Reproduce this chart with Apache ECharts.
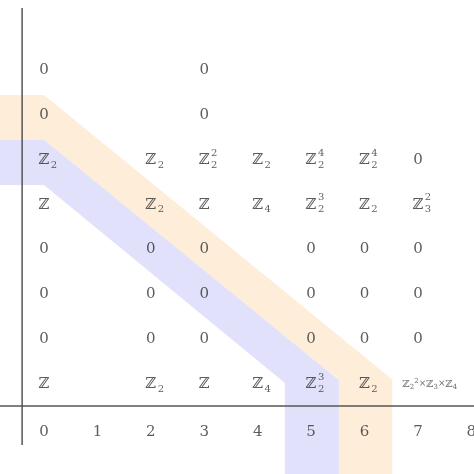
<!DOCTYPE html>
<html>
<head>
<meta charset="utf-8">
<script src="https://cdn.jsdelivr.net/npm/echarts@6/dist/echarts.min.js"></script>
<style>html,body{margin:0;padding:0;background:#fff}#main{width:474px;height:474px}</style>
</head>
<body>
<div id="main"></div>
<script>
// column / row labels
var xTicks = [0, 1, 2, 3, 4, 5, 6, 7, 8];
var yTicks = [0, 1, 2, 3, 4, 5, 6, 7, 8];

// table entries: [p, q, base, subscript, superscript]
var cells = [
    [0, 7, '0', '', ''], [3, 7, '0', '', ''],
    [0, 6, '0', '', ''], [3, 6, '0', '', ''],
    [0, 5, 'ℤ', '2', ''], [2, 5, 'ℤ', '2', ''], [3, 5, 'ℤ', '2', '2'], [4, 5, 'ℤ', '2', ''],
    [5, 5, 'ℤ', '2', '4'], [6, 5, 'ℤ', '2', '4'], [7, 5, '0', '', ''],
    [0, 4, 'ℤ', '', ''], [2, 4, 'ℤ', '2', ''], [3, 4, 'ℤ', '', ''], [4, 4, 'ℤ', '4', ''],
    [5, 4, 'ℤ', '2', '3'], [6, 4, 'ℤ', '2', ''], [7, 4, 'ℤ', '3', '2'],
    [0, 3, '0', '', ''], [2, 3, '0', '', ''], [3, 3, '0', '', ''], [5, 3, '0', '', ''], [6, 3, '0', '', ''], [7, 3, '0', '', ''],
    [0, 2, '0', '', ''], [2, 2, '0', '', ''], [3, 2, '0', '', ''], [5, 2, '0', '', ''], [6, 2, '0', '', ''], [7, 2, '0', '', ''],
    [0, 1, '0', '', ''], [2, 1, '0', '', ''], [3, 1, '0', '', ''], [5, 1, '0', '', ''], [6, 1, '0', '', ''], [7, 1, '0', '', ''],
    [0, 0, 'ℤ', '', ''], [2, 0, 'ℤ', '2', ''], [3, 0, 'ℤ', '', ''], [4, 0, 'ℤ', '4', ''],
    [5, 0, 'ℤ', '2', '3'], [6, 0, 'ℤ', '2', '']
];
// the long entry at (7,0)
var longCell = [7, 0, '{z|ℤ}{s|2}{p|2}{t|×}{z|ℤ}{s|3}{t|×}{z|ℤ}{s|4}'];

// highlighted bands
var blueBand = [[-0.9, 5.45], [0, 5.45], [5.52, 0.08], [5.52, -2.2], [4.51, -2.2], [4.51, 0.02], [0, 4.44], [-0.9, 4.44]];
var orangeBand = [[-0.9, 6.45], [0, 6.45], [6.52, 0.1], [6.52, -2.2], [5.52, -2.2], [5.52, 0.08], [0, 5.45], [-0.9, 5.45]];

var serif = '"DejaVu Serif", "Liberation Serif", serif';

function band(points, color) {
    return {
        type: 'custom',
        silent: true,
        z: 1,
        data: [0],
        renderItem: function (params, api) {
            return {
                type: 'polygon',
                shape: { points: points.map(function (p) { return api.coord(p); }) },
                style: { fill: color }
            };
        }
    };
}

function textSeries(data, fmt, size, offset, color) {
    return {
        type: 'scatter',
        symbolSize: 0,
        silent: true,
        z: 5,
        data: data,
        label: {
            show: true,
            position: 'inside',
            formatter: fmt,
            fontFamily: serif,
            fontSize: size,
            color: color || '#333',
            offset: offset
        }
    };
}

var baseData = cells.map(function (c) { return { value: [c[0], c[1]], name: c[2] }; });
var subData = cells.filter(function (c) { return c[3]; }).map(function (c) { return { value: [c[0], c[1]], name: c[3] }; });
var supData = cells.filter(function (c) { return c[4]; }).map(function (c) { return { value: [c[0], c[1]], name: c[4] }; });

var myChart = echarts.init(document.getElementById('main'));
var option = {
    animation: false,
    grid: { left: 0, right: 0, top: 0, bottom: 0 },
    xAxis: { type: 'value', min: -0.824, max: 8.05, show: false },
    yAxis: { type: 'value', min: -2.01, max: 8.57, show: false },
    series: [
        band(orangeBand, 'rgba(253,225,192,0.6)'),
        band(blueBand, 'rgba(205,205,250,0.6)'),
        {
            type: 'line', symbol: 'none', silent: true, z: 3,
            lineStyle: { color: '#555', width: 1.5 },
            data: [[-0.41, 8.39], [-0.41, -1.36]]
        },
        {
            type: 'line', symbol: 'none', silent: true, z: 3,
            lineStyle: { color: '#555', width: 1.5 },
            data: [[-0.9, -0.49], [8.1, -0.49]]
        },
        textSeries(baseData, '{b}', 15, [0, 0]),
        textSeries(subData, '{b}', 10, [10, 5]),
        textSeries(supData, '{b}', 10, [10, -7]),
        textSeries(xTicks.map(function (t) { return { value: [t, -1.07], name: String(t) }; }), '{b}', 15, [0, 0]),
        textSeries(yTicks.map(function (t) { return { value: [-0.86, t], name: String(t) }; }), '{b}', 15, [0, 0], '#000'),
        {
            type: 'scatter', symbolSize: 0, silent: true, z: 5,
            data: [{ value: [longCell[0], longCell[1]] }],
            label: {
                show: true, position: 'inside', offset: [12, 0],
                formatter: longCell[2],
                rich: {
                    z: { fontFamily: serif, fontSize: 10, color: '#444' },
                    s: { fontFamily: serif, fontSize: 7, color: '#444', padding: [6, 0, 0, 0] },
                    p: { fontFamily: serif, fontSize: 7, color: '#444', padding: [0, 0, 6, 0] },
                    t: { fontFamily: serif, fontSize: 9, color: '#444' }
                }
            }
        }
    ]
};
myChart.setOption(option);
</script>
</body>
</html>
